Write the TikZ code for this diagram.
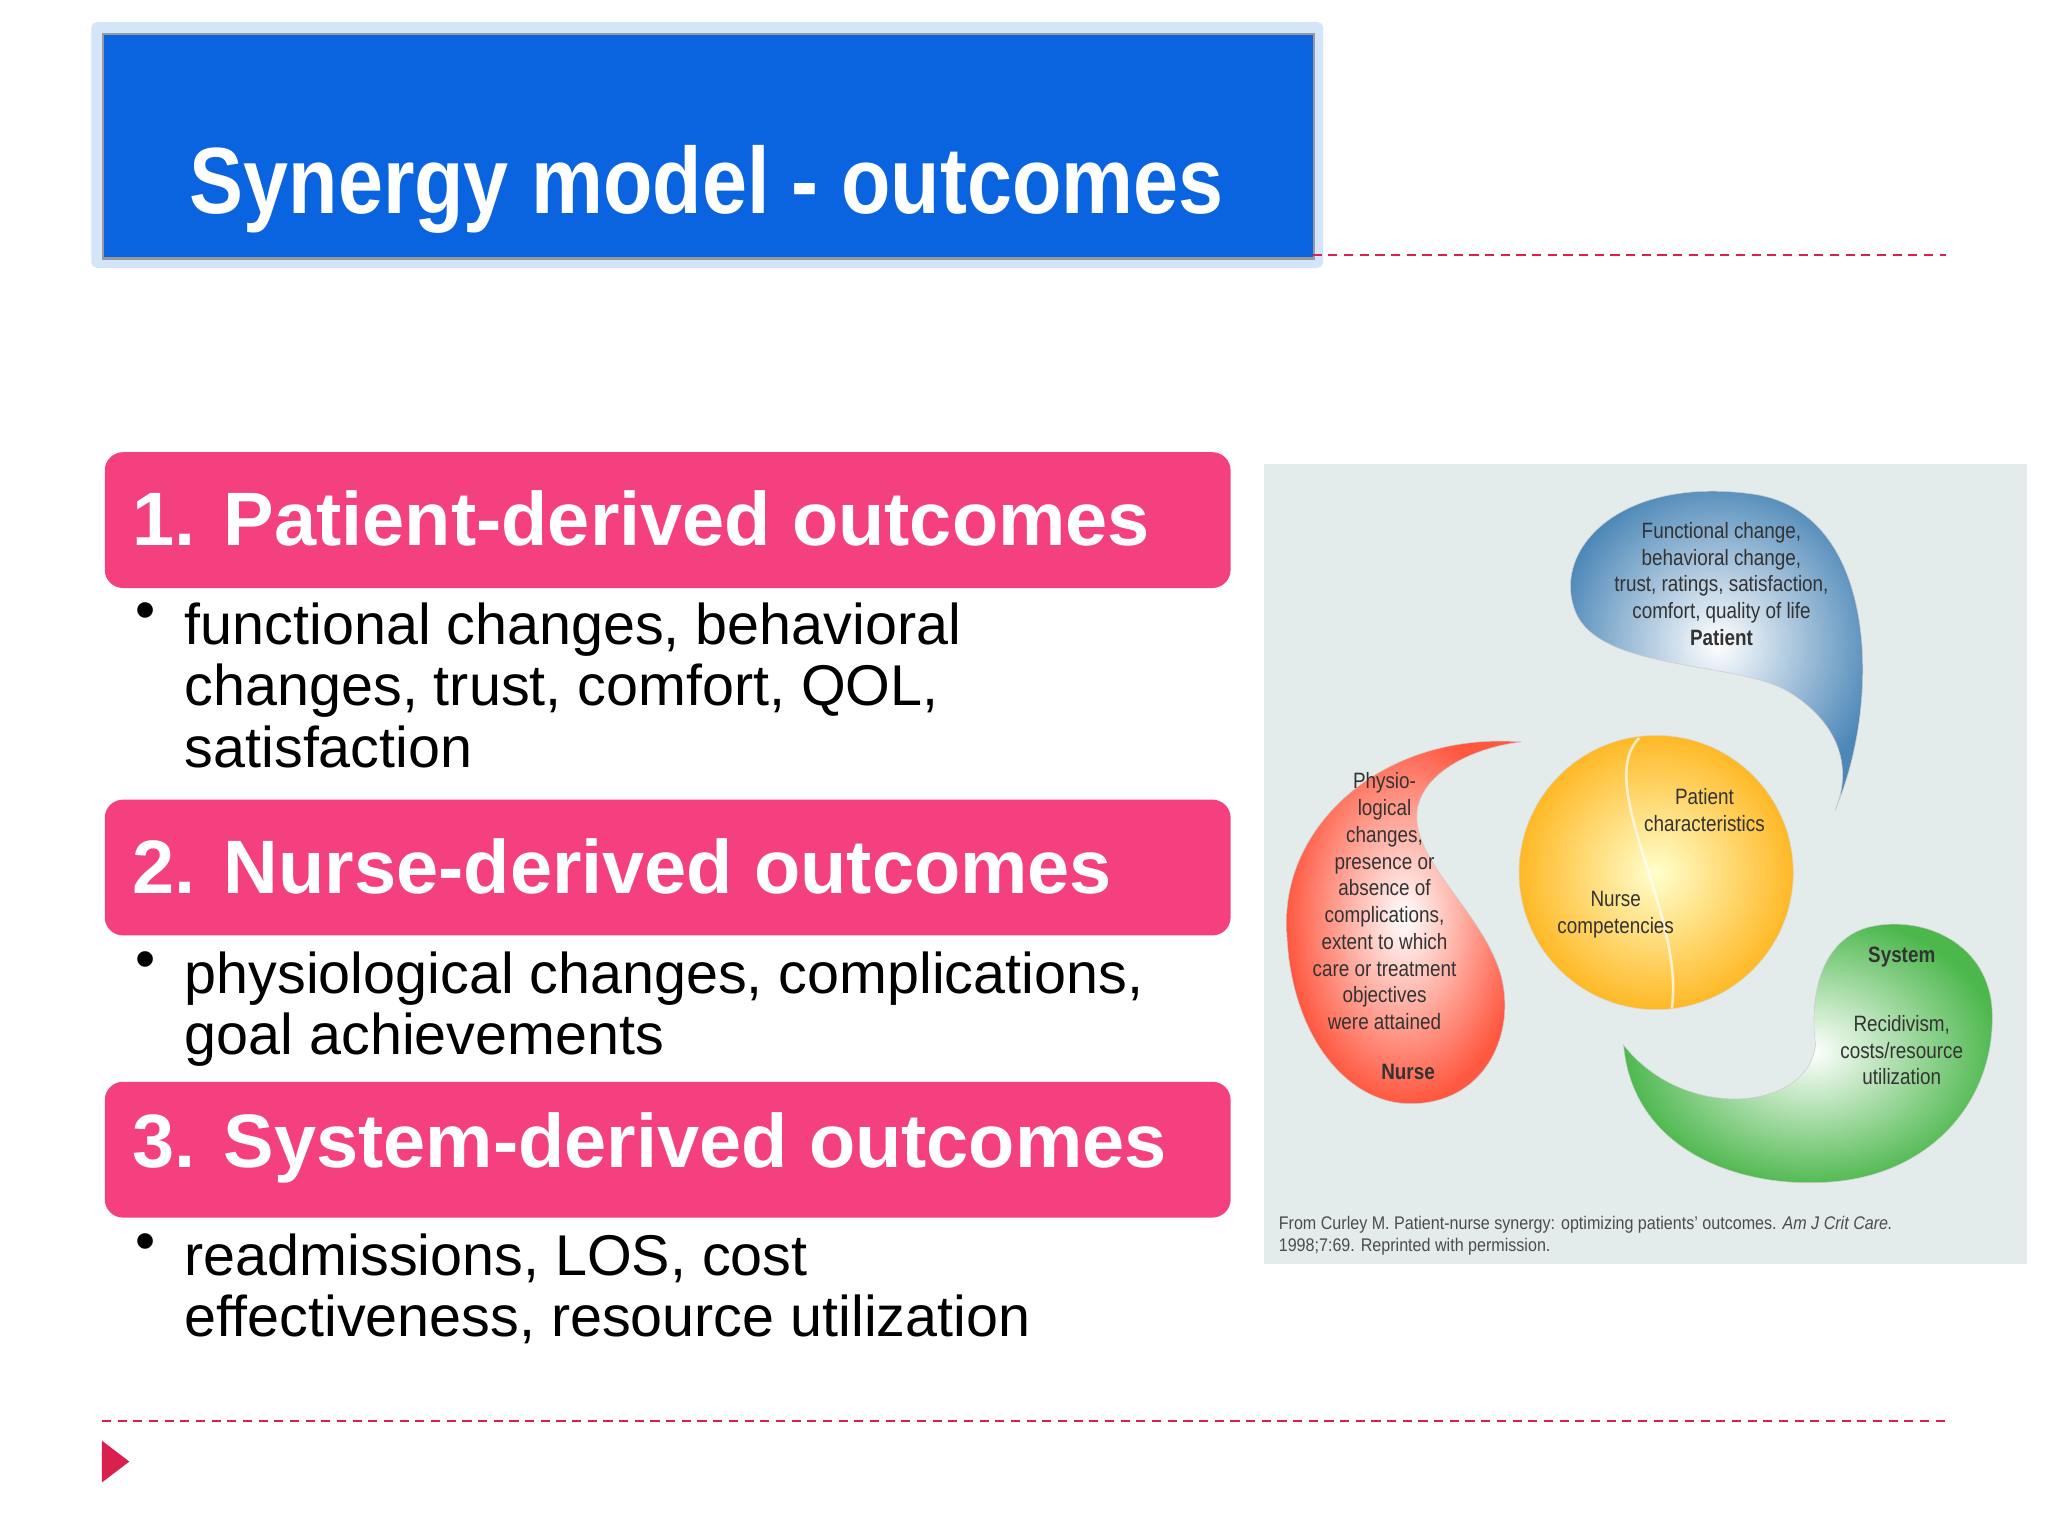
\documentclass[tikz,border=0pt]{standalone}
\usepackage{fontspec}
\setmainfont{Liberation Sans}
\definecolor{tblue}{HTML}{0A64E0}
\definecolor{tpink}{HTML}{F5407F}
\definecolor{tred}{HTML}{D9204F}
\definecolor{dbg}{HTML}{E3ECEA}
\tikzset{
  pinkbox/.style={fill=tpink,rounded corners=14pt,draw=none},
  hdr/.style={anchor=west,text=white,font=\fontsize{58}{64}\selectfont\bfseries},
  bul/.style={anchor=north west,align=left,font=\fontsize{44}{47}\selectfont},
  dot/.style={anchor=north west,font=\fontsize{44}{47}\selectfont},
  dl/.style={align=center,font=\fontsize{17}{20.5}\selectfont,text=black!80,xscale=0.85},
  redline/.style={draw=tred,dashed,dash pattern=on 7pt off 5pt,line width=1.3pt}
}
\begin{document}
\begin{tikzpicture}[x=1pt,y=-1pt]
\useasboundingbox (0,0) rectangle (1568,1176);
% title
\fill[tblue!35,opacity=0.5,rounded corners=4pt] (70,17) rectangle (1013,205);
\node[draw=black!40,line width=2pt,fill=tblue,minimum width=927pt,minimum height=172pt,anchor=north west,inner sep=0] (title) at (78,25) {};
\node[text=white,font=\fontsize{72}{80}\selectfont\bfseries,xscale=0.86] (ttext) at (541,145) {Synergy model - outcomes};
\coordinate (d1) at (1005,195); \coordinate (d2) at (1490,195);
\draw[redline] (d1) -- (d2);
\coordinate (d3) at (78,1088); \coordinate (d4) at (1490,1088);
\draw[redline] (d3) -- (d4);
\fill[tred] (78,1103) -- (99,1119) -- (78,1135) -- cycle;
% boxes
\node[pinkbox,minimum width=862pt,minimum height=104pt,anchor=north west] (b1) at (80,346) {};
\node[hdr] at (98,397) {1. Patient-derived outcomes};
\node[dot] at (100,458) {•};
\node[bul] (t1) at (138,458) {functional changes, behavioral\\changes, trust, comfort, QOL,\\satisfaction};
\node[pinkbox,minimum width=862pt,minimum height=104pt,anchor=north west] (b2) at (80,612) {};
\node[hdr] at (98,663) {2. Nurse-derived outcomes};
\node[dot] at (100,725) {•};
\node[bul] (t2) at (138,725) {physiological changes, complications,\\goal achievements};
\node[pinkbox,minimum width=862pt,minimum height=104pt,anchor=north west] (b3) at (80,828) {};
\node[hdr] at (98,879) {3. System-derived outcomes};
\node[dot] at (100,941) {•};
\node[bul] (t3) at (138,941) {readmissions, LOS, cost\\effectiveness, resource utilization};
% diagram
\fill[dbg] (968,355) rectangle (1552,968);
\shade[inner color=white,outer color=blue!45!cyan!60!black!70!white,draw=black!20]
 (1405,620) .. controls (1440,540) and (1440,390) .. (1340,378) .. controls (1240,365) and (1190,420) .. (1205,465) .. controls (1220,515) and (1330,505) .. (1370,530) .. controls (1410,555) and (1418,590) .. (1405,620) -- cycle;
\shade[inner color=white,outer color=red!75!orange!75!white,draw=black!20]
 (1165,568) .. controls (1060,560) and (985,630) .. (985,705) .. controls (985,790) and (1030,845) .. (1080,845) .. controls (1135,845) and (1160,795) .. (1150,750) .. controls (1138,700) and (1080,660) .. (1085,620) .. controls (1090,590) and (1130,572) .. (1165,568) -- cycle;
\shade[inner color=white,outer color=green!60!black!70!white,draw=black!20]
 (1243,800) .. controls (1250,880) and (1330,910) .. (1400,905) .. controls (1480,900) and (1530,840) .. (1525,770) .. controls (1520,720) and (1470,700) .. (1430,710) .. controls (1395,720) and (1385,760) .. (1390,800) .. controls (1385,850) and (1290,860) .. (1243,800) -- cycle;
\shade[inner color=yellow!20,outer color=orange!65!yellow!85!white,draw=black!15] (1268,668) circle (105);
\draw[white,line width=2pt,opacity=0.7] (1255,565) .. controls (1220,600) and (1290,700) .. (1280,772);
\node[dl] at (1318,447) {Functional change,\\behavioral change,\\trust, ratings, satisfaction,\\comfort, quality of life\\\textbf{Patient}};
\node[dl] at (1305,620) {Patient\\characteristics};
\node[dl] at (1237,700) {Nurse\\competencies};
\node[dl] at (1060,690) {Physio-\\logical\\changes,\\presence or\\absence of\\complications,\\extent to which\\care or treatment\\objectives\\were attained};
\node[dl] at (1078,821) {\textbf{Nurse}};
\node[dl] at (1456,733) {\textbf{System}};
\node[dl] at (1456,804) {Recidivism,\\costs/resource\\utilization};
\node[anchor=west,align=left,font=\fontsize{14}{17}\selectfont,text=black!70,xscale=0.88] at (976,946) {From Curley M. Patient-nurse synergy: optimizing patients' outcomes. \textit{Am J Crit Care.}\\1998;7:69. Reprinted with permission.};
\end{tikzpicture}
\end{document}
